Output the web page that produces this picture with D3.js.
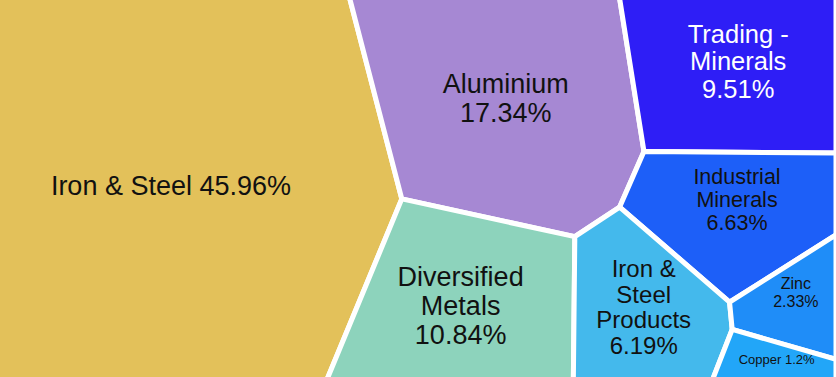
<!DOCTYPE html>
<html>
<head>
<meta charset="utf-8">
<script src="https://cdn.jsdelivr.net/npm/d3@7"></script>
<style>
  body { margin: 0; background: #fff; }
  svg { display: block; }
</style>
</head>
<body>
<div id="chart"></div>
<script>
// sectors and their share of the total (%)
const categories = ["Iron & Steel", "Aluminium", "Trading - Minerals", "Diversified Metals",
                    "Industrial Minerals", "Iron & Steel Products", "Zinc", "Copper"];
const shares = [45.96, 17.34, 9.51, 10.84, 6.63, 6.19, 2.33, 1.2];

// layout seeds for the voronoi treemap, as a fraction of width / height
const seedX = [0.2045, 0.605, 0.883, 0.551, 0.8816, 0.770, 0.952, 0.929];
const seedY = [0.4907, 0.260, 0.162, 0.809, 0.528, 0.814, 0.775, 0.952];

const colors = ["#e3c15a", "#a688d3", "#2e1ef6", "#8dd3bc", "#1d5ff8", "#44b9ec", "#1f8df8", "#22a6f8"];

// label styling: font size, wrap width, text colour
const labelStyle = {
    "Iron & Steel": {size: 27, wrap: 300},
    "Aluminium": {size: 27, wrap: 150},
    "Trading - Minerals": {size: 25.5, wrap: 110, fill: "#fff"},
    "Diversified Metals": {size: 27, wrap: 140},
    "Industrial Minerals": {size: 21.5, wrap: 100},
    "Iron & Steel Products": {size: 24, wrap: 100},
    "Zinc": {size: 16, wrap: 50},
    "Copper": {size: 13, wrap: 100}
};

// like d3-voronoi-treemap: stop once the area error is under this ratio
const convergenceRatio = 0.03;

const width = 836, height = 377;

const svg = d3.select("#chart")
    .append("svg")
    .attr("width", width)
    .attr("height", height);

const xScale = d3.scaleLinear().domain([0, 1]).range([0, width]);
const yScale = d3.scaleLinear().domain([0, 1]).range([0, height]);

// outer polygon, a little bigger than the view on the cropped sides
const bounds = [[-3, -3], [width, -3], [width, height + 3], [-3, height + 3]];
const totalArea = Math.abs(d3.polygonArea(bounds));
const shareSum = d3.sum(shares);

const sites = categories.map((c, i) => [xScale(seedX[i]), yScale(seedY[i])]);
const targets = shares.map(s => s / shareSum * totalArea);
const meanTarget = d3.mean(targets);
// small cells settle faster than big ones
const rates = targets.map(t => Math.min(0.5, 0.1 * meanTarget / t));

// keep the part of poly where a.p <= b
function clipHalf(poly, a, b) {
    const out = [];
    for (let k = 0; k < poly.length; k++) {
        const p = poly[k], q = poly[(k + 1) % poly.length];
        const fp = a[0] * p[0] + a[1] * p[1] - b;
        const fq = a[0] * q[0] + a[1] * q[1] - b;
        if (fp <= 0) out.push(p);
        if ((fp < 0 && fq > 0) || (fp > 0 && fq < 0)) {
            const t = fp / (fp - fq);
            out.push([p[0] + t * (q[0] - p[0]), p[1] + t * (q[1] - p[1])]);
        }
    }
    return out;
}

// power diagram cell of site i
function powerCell(i, w) {
    let poly = bounds.slice();
    const si = sites[i];
    for (let j = 0; j < sites.length && poly.length; j++) {
        if (j === i) continue;
        const sj = sites[j];
        const a = [2 * (sj[0] - si[0]), 2 * (sj[1] - si[1])];
        const b = sj[0] * sj[0] + sj[1] * sj[1] - si[0] * si[0] - si[1] * si[1] - w[j] + w[i];
        poly = clipHalf(poly, a, b);
    }
    return poly;
}

const areaOf = p => p.length > 2 ? Math.abs(d3.polygonArea(p)) : 0;

// adjust weights (all at once, small steps) until the area error is small enough
let weights = sites.map(() => 0);
for (let it = 0; it < 1000; it++) {
    const areas = sites.map((s, i) => areaOf(powerCell(i, weights)));
    const err = d3.sum(areas, (a, i) => Math.abs(a - targets[i])) / totalArea;
    if (err < convergenceRatio) break;
    weights = weights.map((w, i) => {
        const eps = 20;
        const w2 = weights.slice();
        w2[i] += eps;
        const deriv = Math.max((areaOf(powerCell(i, w2)) - areas[i]) / eps, 0.05);
        return w + rates[i] * (targets[i] - areas[i]) / deriv;
    });
}

const cells = categories.map((c, i) => ({
    name: c,
    share: shares[i],
    color: colors[i],
    site: sites[i],
    poly: powerCell(i, weights)
}));

svg.selectAll(".cell")
    .data(cells)
    .join("path")
    .attr("class", "cell")
    .attr("d", d => "M" + d.poly.join("L") + "Z")
    .style("fill", d => d.color)
    .style("stroke", "#fff")
    .style("stroke-width", 5)
    .style("stroke-linejoin", "round");

// measure text for wrapping
const measure = svg.append("text")
    .style("font-family", "'Liberation Sans', Arial, sans-serif")
    .style("visibility", "hidden");

function wrapWords(text, size, maxWidth) {
    measure.style("font-size", size + "px");
    const words = text.split(" ");
    const lines = [];
    let line = "";
    words.forEach(word => {
        const test = line ? line + " " + word : word;
        measure.text(test);
        if (line && measure.node().getComputedTextLength() > maxWidth) {
            lines.push(line);
            line = word;
        } else {
            line = test;
        }
    });
    if (line) lines.push(line);
    return lines;
}

const labels = svg.selectAll(".label")
    .data(cells)
    .join("text")
    .attr("class", "label")
    .attr("text-anchor", "middle")
    .style("font-family", "'Liberation Sans', Arial, sans-serif")
    .style("font-size", d => labelStyle[d.name].size + "px")
    .style("fill", d => labelStyle[d.name].fill || "#111");

labels.each(function(d) {
    const st = labelStyle[d.name];
    const lines = wrapWords(d.name + " " + d.share + "%", st.size, st.wrap);
    const lh = st.size * 1.08;
    const y0 = d.site[1] - (lines.length - 1) * lh / 2 + st.size * 0.36;
    d3.select(this).selectAll("tspan")
        .data(lines)
        .join("tspan")
        .attr("x", d.site[0])
        .attr("y", (l, k) => y0 + k * lh)
        .text(l => l);
});

measure.remove();
</script>
</body>
</html>
